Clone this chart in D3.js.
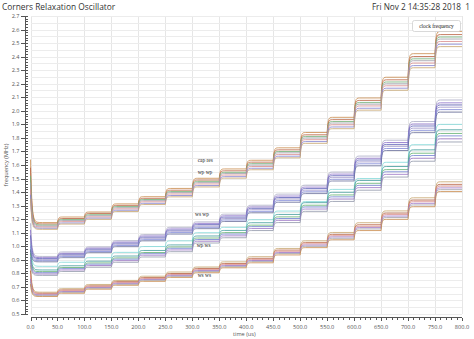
<!DOCTYPE html>
<html>
<head>
<meta charset="utf-8">
<script src="https://cdn.jsdelivr.net/npm/d3@7"></script>
<style>
  html, body { margin: 0; padding: 0; background: #fff; }
  svg { display: block; }
</style>
</head>
<body>
<svg id="chart" width="474" height="339"></svg>
<script>
// Clock frequency (MHz) of the relaxation oscillator per 50 us trim step, per corner.
const stepTimes = [0, 50, 100, 150, 200, 250, 300, 350, 400, 450, 500, 550, 600, 650, 700, 750];
const xTicks = [0, 50, 100, 150, 200, 250, 300, 350, 400, 450, 500, 550, 600, 650, 700, 750, 800];
const yTicks = [0.5, 0.6, 0.7, 0.8, 0.9, 1.0, 1.1, 1.2, 1.3, 1.4, 1.5, 1.6, 1.7, 1.8, 1.9, 2.0, 2.1, 2.2, 2.3, 2.4, 2.5, 2.6, 2.7];

// "wp wp" / "cap res" corner group
const wpwpStart = [1.64, 1.58, 1.52, 1.47, 1.42, 1.38, 1.35];
const wpwpLevels = [
  [1.175, 1.216, 1.253, 1.313, 1.366, 1.427, 1.502, 1.571, 1.635, 1.727, 1.840, 1.952, 2.095, 2.248, 2.422, 2.586],
  [1.165, 1.205, 1.242, 1.302, 1.354, 1.414, 1.489, 1.557, 1.621, 1.712, 1.823, 1.935, 2.077, 2.229, 2.401, 2.563],
  [1.157, 1.197, 1.233, 1.293, 1.345, 1.404, 1.479, 1.546, 1.610, 1.700, 1.811, 1.921, 2.062, 2.213, 2.384, 2.545],
  [1.150, 1.190, 1.226, 1.285, 1.337, 1.396, 1.470, 1.537, 1.600, 1.690, 1.800, 1.910, 2.050, 2.200, 2.370, 2.530],
  [1.142, 1.182, 1.217, 1.276, 1.328, 1.386, 1.460, 1.526, 1.589, 1.678, 1.787, 1.897, 2.036, 2.185, 2.353, 2.512],
  [1.133, 1.172, 1.208, 1.266, 1.317, 1.375, 1.448, 1.514, 1.576, 1.665, 1.773, 1.881, 2.019, 2.167, 2.334, 2.492],
  [1.125, 1.164, 1.199, 1.257, 1.308, 1.365, 1.438, 1.503, 1.565, 1.653, 1.760, 1.868, 2.005, 2.152, 2.318, 2.474]
];
const wpwpColors = ["#c98a4b", "#b9603f", "#6fae73", "#9d9da8", "#d98a8a", "#7f7fcf", "#c7a36b"];

// "ws wp" corner group
const wswpStart = [1.17, 1.12, 1.08, 1.04, 1.00, 0.97];
const wswpLevels = [
  [0.925, 0.958, 0.995, 1.041, 1.086, 1.140, 1.180, 1.237, 1.303, 1.385, 1.451, 1.548, 1.666, 1.783, 1.921, 2.080],
  [0.916, 0.948, 0.986, 1.031, 1.076, 1.128, 1.169, 1.225, 1.290, 1.371, 1.437, 1.533, 1.650, 1.766, 1.903, 2.059],
  [0.909, 0.941, 0.978, 1.023, 1.067, 1.119, 1.160, 1.215, 1.280, 1.360, 1.426, 1.521, 1.637, 1.752, 1.888, 2.043],
  [0.901, 0.933, 0.970, 1.015, 1.059, 1.111, 1.150, 1.205, 1.270, 1.350, 1.414, 1.509, 1.623, 1.738, 1.872, 2.027],
  [0.893, 0.925, 0.961, 1.006, 1.049, 1.101, 1.140, 1.194, 1.258, 1.337, 1.402, 1.495, 1.609, 1.722, 1.856, 2.009],
  [0.885, 0.916, 0.953, 0.997, 1.040, 1.090, 1.130, 1.183, 1.247, 1.325, 1.389, 1.482, 1.594, 1.707, 1.839, 1.990]
];
const wswpColors = ["#a9a9c4", "#8a6fc9", "#5d5fb8", "#9a90c8", "#7b84d6", "#6a6f9a"];

// "wp ws" corner group
const wpwsStart = [1.02, 0.98, 0.95, 0.92, 0.90, 0.88];
const wpwsLevels = [
  [0.852, 0.882, 0.916, 0.955, 0.998, 1.040, 1.100, 1.140, 1.196, 1.260, 1.330, 1.420, 1.500, 1.620, 1.750, 1.900],
  [0.825, 0.856, 0.890, 0.928, 0.969, 1.010, 1.076, 1.117, 1.174, 1.235, 1.322, 1.399, 1.486, 1.589, 1.712, 1.860],
  [0.813, 0.843, 0.877, 0.914, 0.954, 0.995, 1.061, 1.101, 1.156, 1.217, 1.303, 1.379, 1.465, 1.566, 1.687, 1.833],
  [0.805, 0.835, 0.868, 0.905, 0.945, 0.985, 1.050, 1.090, 1.145, 1.205, 1.290, 1.365, 1.450, 1.550, 1.670, 1.815],
  [0.795, 0.825, 0.858, 0.894, 0.934, 0.973, 1.037, 1.077, 1.131, 1.191, 1.275, 1.349, 1.433, 1.531, 1.650, 1.793],
  [0.785, 0.814, 0.846, 0.882, 0.921, 0.960, 1.024, 1.063, 1.116, 1.175, 1.258, 1.331, 1.414, 1.511, 1.628, 1.770]
];
const wpwsColors = ["#7fd8d8", "#3f9a9a", "#5fae6f", "#6f7fd0", "#9a74c4", "#8f96a8"];

// "ws ws" corner group
const wswsStart = [0.86, 0.82, 0.79, 0.76, 0.74, 0.72];
const wswsLevels = [
  [0.661, 0.687, 0.718, 0.748, 0.779, 0.810, 0.847, 0.885, 0.923, 0.984, 1.040, 1.102, 1.174, 1.261, 1.358, 1.476],
  [0.653, 0.678, 0.708, 0.739, 0.769, 0.799, 0.836, 0.873, 0.911, 0.972, 1.027, 1.088, 1.159, 1.245, 1.341, 1.457],
  [0.647, 0.672, 0.702, 0.732, 0.762, 0.792, 0.828, 0.866, 0.903, 0.963, 1.018, 1.078, 1.148, 1.234, 1.329, 1.444],
  [0.641, 0.666, 0.696, 0.726, 0.755, 0.785, 0.821, 0.858, 0.895, 0.954, 1.009, 1.069, 1.138, 1.223, 1.317, 1.431],
  [0.635, 0.660, 0.690, 0.719, 0.749, 0.778, 0.814, 0.850, 0.887, 0.946, 1.000, 1.059, 1.128, 1.212, 1.305, 1.418],
  [0.629, 0.653, 0.683, 0.712, 0.741, 0.770, 0.805, 0.841, 0.878, 0.936, 0.990, 1.048, 1.116, 1.199, 1.292, 1.404]
];
const wswsColors = ["#c7a36b", "#b9603f", "#d98a8a", "#9a74c4", "#9d9da8", "#c98a4b"];

// Curve tags drawn beside the families (label, time, frequency)
const tags = [
  ["cap res", 310, 1.625],
  ["wp wp", 310, 1.535],
  ["ws wp", 305, 1.222],
  ["wp ws", 308, 0.992],
  ["ws ws", 310, 0.776]
];

const svg = d3.select("#chart");
const W = 474, H = 339;
svg.append("rect").attr("width", W).attr("height", H).attr("fill", "#fff");

const x = d3.scaleLinear().domain([0, 800]).range([30.5, 462]);
const y = d3.scaleLinear().domain([0.5, 2.7]).range([314, 16]);

const sans = "'Open Sans', 'DejaVu Sans', sans-serif";
const serif = "'Liberation Serif', 'DejaVu Serif', serif";

// grid
const grid = svg.append("g").attr("shape-rendering", "crispEdges");
grid.selectAll("line.v").data(xTicks).join("line")
  .attr("x1", d => Math.round(x(d)) + 0.5).attr("x2", d => Math.round(x(d)) + 0.5)
  .attr("y1", y(2.7)).attr("y2", y(0.5))
  .attr("stroke", "#e6e6e6").attr("stroke-width", 1);
const yGrid = d3.range(0, 45).map(i => 0.5 + i * 0.05);
grid.selectAll("line.h").data(yGrid).join("line")
  .attr("x1", x(0)).attr("x2", x(800))
  .attr("y1", d => Math.round(y(d)) + 0.5).attr("y2", d => Math.round(y(d)) + 0.5)
  .attr("stroke", "#ececec").attr("stroke-width", 1);

// left axis
const ax = svg.append("g").attr("shape-rendering", "crispEdges").attr("stroke", "#555");
ax.append("line").attr("x1", 25.5).attr("x2", 25.5).attr("y1", y(2.7)).attr("y2", y(0.5));
ax.selectAll("line.ymaj").data(yTicks).join("line")
  .attr("x1", 21).attr("x2", 25.5)
  .attr("y1", d => Math.round(y(d)) + 0.5).attr("y2", d => Math.round(y(d)) + 0.5);
const yMinor = d3.range(0, 111).map(i => 0.5 + i * 0.02);
ax.selectAll("line.ymin").data(yMinor).join("line")
  .attr("x1", 25.5).attr("x2", 27.5)
  .attr("y1", d => Math.round(y(d)) + 0.5).attr("y2", d => Math.round(y(d)) + 0.5);
svg.append("g").selectAll("text").data(yTicks).join("text")
  .attr("x", 19.5).attr("y", d => y(d) + 2)
  .attr("text-anchor", "end")
  .attr("font-family", sans).attr("font-size", 5.6).attr("fill", "#555")
  .text(d => d.toFixed(1));

// bottom axis
const bx = svg.append("g").attr("shape-rendering", "crispEdges").attr("stroke", "#555");
bx.append("line").attr("x1", x(0)).attr("x2", x(800)).attr("y1", 317.5).attr("y2", 317.5);
const xMinor = d3.range(0, 81).map(i => i * 10);
bx.selectAll("line.xmin").data(xMinor).join("line")
  .attr("x1", d => Math.round(x(d)) + 0.5).attr("x2", d => Math.round(x(d)) + 0.5)
  .attr("y1", 317.5).attr("y2", d => d % 50 === 0 ? 321 : 319.5);
svg.append("g").selectAll("text").data(xTicks).join("text")
  .attr("x", d => x(d)).attr("y", 329)
  .attr("text-anchor", "middle")
  .attr("font-family", sans).attr("font-size", 5.6).attr("fill", "#555")
  .text(d => d.toFixed(1));

svg.append("text").attr("x", 233).attr("y", 336)
  .attr("font-family", sans).attr("font-size", 5.6).attr("fill", "#555")
  .text("time (us)");
svg.append("text")
  .attr("transform", `translate(8,${(y(2.7) + y(0.5)) / 2}) rotate(-90)`)
  .attr("text-anchor", "middle")
  .attr("font-family", sans).attr("font-size", 5.6).attr("fill", "#555")
  .text("frequency (MHz)");

// titles
svg.append("text").attr("x", 2).attr("y", 10)
  .attr("font-family", sans).attr("font-size", 8.4).attr("fill", "#333")
  .text("Corners Relaxation Oscillator");
svg.append("text").attr("x", 461).attr("y", 10).attr("text-anchor", "end")
  .attr("font-family", sans).attr("font-size", 8.2).attr("fill", "#333")
  .text("Fri Nov 2 14:35:28 2018");
svg.append("text").attr("x", 470).attr("y", 10).attr("text-anchor", "end")
  .attr("font-family", sans).attr("font-size", 8.2).attr("fill", "#333")
  .text("1");

// traces: start-up settling, then a settling rise at every 50 us step
function trace(start, levels) {
  const pts = [[0, start]];
  [0.4, 0.8, 1.2, 1.8, 2.5, 3.2, 4, 5, 6, 7.5, 9, 12, 16, 22].forEach(dt =>
    pts.push([dt, levels[0] + (start - levels[0]) * Math.exp(-dt / 2.4)]));
  for (let k = 1; k < stepTimes.length; k++) {
    const ts = stepTimes[k], prev = levels[k - 1], next = levels[k];
    pts.push([ts, prev]);
    [0.4, 0.8, 1.2, 1.7, 2.3, 3, 4, 5.5, 7.5, 10].forEach(dt =>
      pts.push([ts + dt, next + (prev - next) * Math.exp(-dt / 1.5)]));
  }
  pts.push([800, levels[levels.length - 1]]);
  return pts;
}

const line = d3.line().x(d => x(d[0])).y(d => y(d[1]));
const families = [
  [wswsStart, wswsLevels, wswsColors],
  [wpwsStart, wpwsLevels, wpwsColors],
  [wswpStart, wswpLevels, wswpColors],
  [wpwpStart, wpwpLevels, wpwpColors]
];
const traces = svg.append("g").attr("fill", "none");
families.forEach(([starts, levels, colors]) => {
  levels.forEach((lv, i) => {
    traces.append("path")
      .attr("d", line(trace(starts[i], lv)))
      .attr("stroke", colors[i % colors.length])
      .attr("stroke-width", 0.8)
      .attr("stroke-linejoin", "round");
  });
});

// family tags
svg.append("g").selectAll("text").data(tags).join("text")
  .attr("x", d => x(d[1])).attr("y", d => y(d[2]))
  .attr("font-family", serif).attr("font-size", 5.4).attr("fill", "#222")
  .text(d => d[0]);

// legend
const lg = svg.append("g");
lg.append("rect").attr("x", 412.5).attr("y", 20.5).attr("width", 48).attr("height", 11)
  .attr("rx", 2).attr("fill", "#fff").attr("stroke", "#cfcfcf").attr("stroke-width", 0.8);
lg.append("text").attr("x", 436.5).attr("y", 28)
  .attr("text-anchor", "middle")
  .attr("font-family", serif).attr("font-size", 5.4).attr("fill", "#222")
  .text("clock frequency");
</script>
</body>
</html>
